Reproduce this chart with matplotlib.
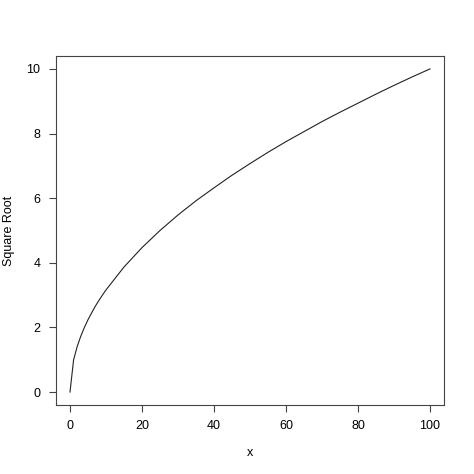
import matplotlib.pyplot as plt

# values
x_vals = [0, 1, 2, 3, 4, 5, 6, 7, 8, 9, 10, 15, 20, 25, 30, 35, 40, 45, 50,
          55, 60, 65, 70, 75, 80, 85, 90, 95, 100]
y_vals = [0.00, 1.00, 1.41, 1.73, 2.00, 2.24, 2.45, 2.65, 2.83, 3.00, 3.16,
          3.87, 4.47, 5.00, 5.48, 5.92, 6.32, 6.71, 7.07, 7.42, 7.75, 8.06,
          8.37, 8.66, 8.94, 9.22, 9.49, 9.75, 10.00]
x_ticks = [0, 20, 40, 60, 80, 100]
y_ticks = [0, 2, 4, 6, 8, 10]

plt.rcParams['font.family'] = ['Liberation Sans', 'DejaVu Sans']

fig = plt.figure(figsize=(4.74, 4.74), dpi=100)
ax = fig.add_axes([0.1173, 0.1456, 0.8203, 0.7363])
ax.plot(x_vals, y_vals, color='#222222', linewidth=0.8)

ax.set_xlim(-4, 104)
ax.set_ylim(-0.4, 10.4)
ax.set_xticks(x_ticks)
ax.set_yticks(y_ticks)
ax.tick_params(labelsize=9, length=5, width=0.8, color='#444444', pad=6)
for s in ax.spines.values():
    s.set_linewidth(0.8)
    s.set_color('#444444')

ax.set_xlabel('x', fontsize=9)
ax.set_ylabel('Square Root', fontsize=9)
ax.xaxis.set_label_coords(0.5, -0.121)
ax.yaxis.set_label_coords(-0.104, 0.5)

fig.savefig('out.png', dpi=100)
